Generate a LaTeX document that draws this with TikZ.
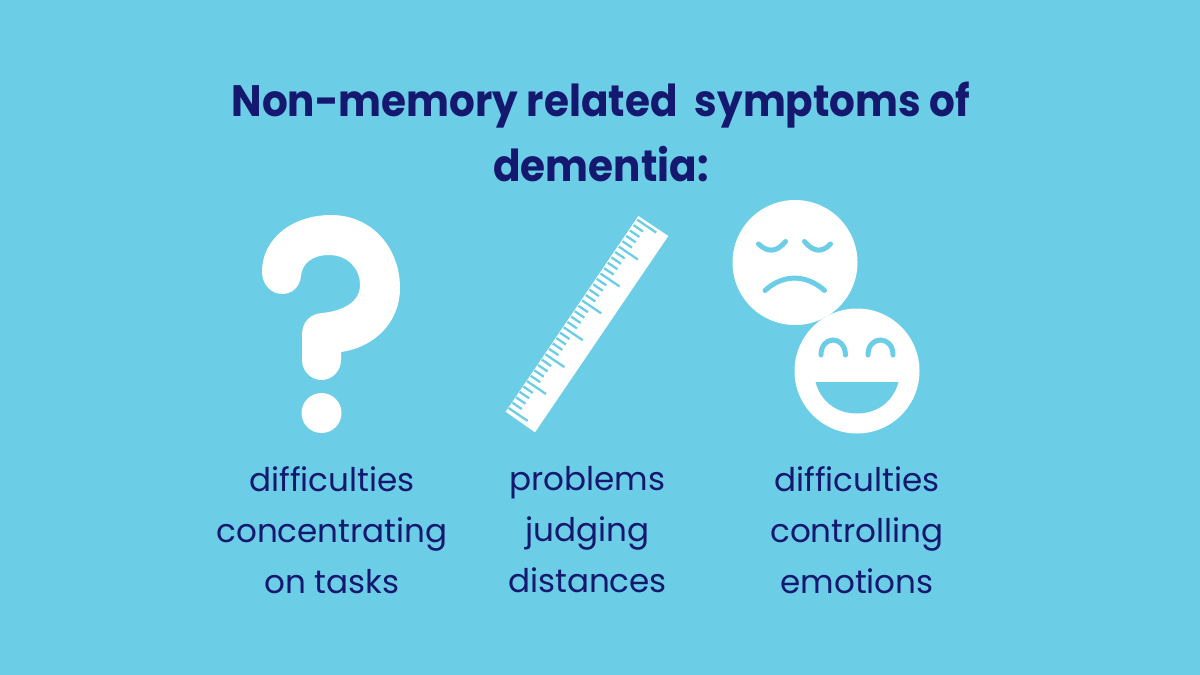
\documentclass[tikz,border=0pt]{standalone}
\usepackage{fontspec}
\setmainfont{Poppins}[Ligatures=NoCommon]
\newfontfamily\titlefont{Poppins}[FakeStretch=0.921,Ligatures=NoCommon]
\definecolor{bgblue}{HTML}{6BCDE6}
\definecolor{navy}{HTML}{14186E}
\tikzset{
  titletext/.style={text=navy,font=\titlefont\fontsize{44}{65}\selectfont\bfseries,align=center,inner sep=0pt},
  bodytext/.style={text=navy,font=\fontsize{32.6}{51}\selectfont,align=center,inner sep=0pt,anchor=center},
  cut/.style={draw=bgblue,line cap=round,line width=5pt},
}
\begin{document}
\begin{tikzpicture}[x=1pt,y=-1pt]
\useasboundingbox (0,0) rectangle (1200,675);
\fill[bgblue] (0,0) rectangle (1200,675);
\node[titletext] (title) at (601,132) {Non-memory related\ \ symptoms of\\dementia:};
% question mark
\fill[white] (262,272) .. controls (262,238) and (293,215) .. (331,215)
  .. controls (372,215) and (400,248) .. (400,288)
  .. controls (400,322) and (375,347) .. (341,352)
  -- (341,360) .. controls (341,371) and (332,380) .. (321.5,380)
  .. controls (311,380) and (302,371) .. (302,360)
  -- (302,335) .. controls (302,322) and (310,314) .. (322,313)
  .. controls (343,311) and (360,302) .. (360,285)
  .. controls (360,268) and (347,255) .. (329,255)
  .. controls (313,255) and (302,263) .. (301,276)
  .. controls (300,287) and (292,294) .. (282,294)
  .. controls (271,294) and (262,284) .. (262,272) -- cycle;
\fill[white] (321.5,413) circle (20);
% ruler
\fill[white] (638.3,216) -- (668.3,236) -- (535,432.3) -- (505.7,411.7) -- cycle;
\foreach \i in {0,...,35}{
  \pgfmathsetmacro{\px}{637.2+\i*(508.6-637.2)/35}
  \pgfmathsetmacro{\py}{219.7+\i*(408-219.7)/35}
  \pgfmathtruncatemacro{\m}{mod(\i,5)}
  \pgfmathsetmacro{\len}{\m==0 ? 23 : 11.5}
  \draw[bgblue,line width=2.3pt] (\px,\py) -- ++({\len*0.828},{\len*0.561});
}
% sad face
\fill[white] (795,262.5) circle (62.5);
\draw[cut] (758.5,244) .. controls (768,253) and (777,252) .. (785.5,241.5);
\draw[cut] (804.5,241.5) .. controls (813,252) and (822,253) .. (830.5,244);
\draw[cut] (765,290.5) .. controls (783,274) and (806,274) .. (824.5,290.5);
% happy face
\fill[white] (857,371) circle (62.5);
\draw[cut] (821,355) .. controls (821,335) and (845,335) .. (845.5,355);
\draw[cut] (868,355) .. controls (868,335) and (893,335) .. (893,355);
\fill[bgblue] (815.5,382) -- (898.5,382) .. controls (893,402) and (877,413.5) .. (857,413.5) .. controls (837,413.5) and (821,402) .. (815.5,382) -- cycle;
% labels
\node[bodytext] (a) at (332,530) {difficulties\\concentrating\\on tasks};
\node[bodytext] (b) at (587.5,530) {problems\\judging\\distances};
\node[bodytext] (c) at (857,530) {difficulties\\controlling\\emotions};
\end{tikzpicture}
\end{document}
